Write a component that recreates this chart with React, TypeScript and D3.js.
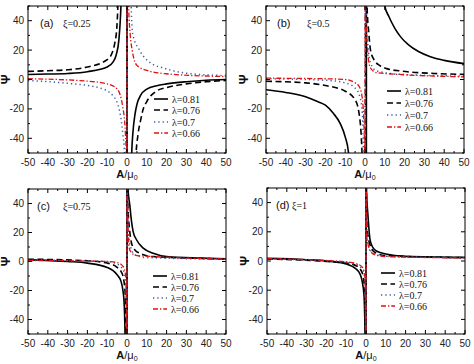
import React from "react";
import * as d3 from "d3";

type Pt = [number, number];

const lambdaLabels = ["λ=0.81", "λ=0.76", "λ=0.7", "λ=0.66"];
const xiLabels = ["ξ=0.25", "ξ=0.5", "ξ=0.75", "ξ=1"];
const panelTags = ["(a)", "(b)", "(c)", "(d)"];
const xTicks = [-50, -40, -30, -20, -10, 0, 10, 20, 30, 40, 50];
const yTicks = [-40, -20, 0, 20, 40];

// Panel (a) xi = 0.25
const a081: Pt[] = [[-50, 3.4], [-40, 3.7], [-30, 4.1], [-20, 5.3], [-10, 8.5], [-7, 12], [-5.5, 16.5], [-4.1, 27], [-3.4, 40], [-3, 52], [-2, 120], [-0.03, 4000], [0.03, -4000], [2, -80], [2.4, -50], [3, -36], [4, -24], [5, -17], [7, -10.5], [10, -6.5], [15, -4.2], [20, -3], [30, -1.5], [40, -0.5], [50, 0]];
const a076: Pt[] = [[-50, 5.5], [-40, 6], [-30, 6.6], [-20, 8.5], [-10, 13.5], [-7, 20], [-6.2, 24.5], [-5.1, 36], [-4.6, 50], [-3.5, 100], [-0.03, 4000], [0.03, -4000], [3.5, -90], [4.6, -50], [5.5, -38], [7, -27], [8, -21], [10, -15], [14.7, -8], [20, -5.5], [30, -3], [40, -1.5], [50, -0.7]];
const a070: Pt[] = [[-50, -0.7], [-30.7, -2.5], [-13.9, -5.7], [-7.1, -11], [-3.8, -21], [-2.1, -37], [-1.3, -50], [-0.8, -150], [-0.03, -4000], [0.03, 4000], [1.2, 150], [2.1, 50], [2.9, 31], [6.3, 20], [11.3, 11.9], [19.7, 7.3], [36.6, 3.4], [50, 2.7]];
const a066: Pt[] = [[-50, 0.5], [-20, -1.1], [-10, -3], [-5, -6.4], [-2.1, -19], [-0.8, -37], [-0.4, -50], [-0.2, -150], [-0.02, -4000], [0.02, 4000], [0.5, 150], [0.9, 47], [1.6, 31], [2.6, 20], [5, 9.6], [10, 6.2], [19.7, 3.9], [50, 2]];

// Panel (b) xi = 0.5
const b081: Pt[] = [[-50, -7], [-40, -8.8], [-30, -11.8], [-24, -15], [-20, -17.5], [-16, -23], [-12.5, -30], [-10, -39], [-8.3, -50], [-6, -100], [0.6, -4000], [0.8, 4000], [7, 120], [10, 50], [12, 43], [15, 35], [18, 29], [22, 23.5], [27, 19], [33, 15.5], [40, 13], [50, 10.8]];
const b076: Pt[] = [[-50, -1.2], [-30, -2.3], [-20, -4.1], [-10, -8], [-5, -13.8], [-3, -23], [-1.5, -50], [-1, -120], [0.2, -4000], [0.3, 4000], [0.7, 120], [1, 51], [1.9, 32], [2.7, 20.7], [4.4, 13.8], [7.8, 9.2], [11, 7.4], [18, 5.8], [35, 4.1], [50, 3.5]];
const b070: Pt[] = [[-50, 0.5], [-20, -0.5], [-10, -2.3], [-5, -5.8], [-3, -10], [-1.5, -20], [-0.8, -50], [-0.5, -120], [0.1, -4000], [0.2, 4000], [0.3, 120], [0.5, 50], [1.4, 25], [2.7, 11.5], [6, 5.8], [18, 3.5], [50, 2.3]];
const b066: Pt[] = [[-50, 0.9], [-20, 0.5], [-10, 0], [-5, -2.3], [-3, -4.6], [-1.5, -11.5], [-0.5, -32], [-0.2, -50], [0, -4000], [0.1, 4000], [0.2, 50], [0.7, 34], [1.4, 18], [2.7, 8], [6, 4.6], [50, 1.8]];

// Panel (c) xi = 0.75
const c081: Pt[] = [[-50, 1.1], [-30, 0], [-20, -1.1], [-10, -4.1], [-5, -9.2], [-3, -13.7], [-2, -20.6], [-1.5, -27.5], [-1, -50], [-0.6, -150], [-0.02, -4000], [0.02, 4000], [0.3, 150], [0.5, 50], [1.4, 39], [2.3, 27.5], [3.1, 20.6], [4.8, 15], [8.2, 9.2], [13.2, 5.7], [20, 3.4], [37, 2.3], [50, 1.8]];
const c076: Pt[] = [[-50, 1.6], [-20, 0.5], [-10, -1.1], [-5, -4.1], [-3, -6.9], [-2, -10.3], [-1, -20.6], [-0.5, -50], [-0.3, -150], [-0.02, -4000], [0.02, 4000], [0.2, 150], [0.4, 40], [1.4, 20.6], [2.3, 12.6], [4, 8], [6.5, 5.7], [13, 3.4], [50, 1.8]];
const c070: Pt[] = [[-50, 1.1], [-10, 0], [-5, -1.8], [-2, -5.7], [-1, -11.4], [-0.5, -20], [-0.2, -50], [-0.02, -4000], [0.02, 4000], [0.2, 50], [1, 16], [2, 9.2], [4, 4.6], [10, 2.7], [50, 1.6]];
const c066: Pt[] = [[-50, 0.7], [-10, 0], [-5, -0.7], [-2, -3.4], [-1, -6.9], [-0.5, -16], [-0.2, -50], [-0.02, -4000], [0.02, 4000], [0.2, 50], [0.5, 28], [1, 10.3], [2, 6.4], [5, 4.1], [50, 1.8]];

// Panel (d) xi = 1
const d081: Pt[] = [[-50, 1.8], [-30, 0.9], [-20, 0], [-10, -2], [-5, -5.5], [-3, -9], [-2, -13.5], [-1, -23.7], [-0.5, -50], [-0.2, -200], [-0.02, -4000], [0.02, 4000], [0.1, 200], [0.2, 50], [1, 31], [2, 15], [3, 10.5], [5, 7], [10, 4.8], [20, 3.2], [50, 2.5]];
const d076: Pt[] = [[-50, 1.4], [-10, -1.4], [-5, -3.2], [-2, -7.8], [-1, -14.6], [-0.5, -25], [-0.2, -50], [-0.02, -4000], [0.02, 4000], [0.2, 50], [0.5, 22], [1, 17], [2, 11], [3, 8], [5, 5.5], [10, 3.7], [50, 2.3]];
const d070: Pt[] = [[-50, 1.4], [-10, -0.9], [-5, -2.3], [-2, -5.5], [-1, -9], [-0.5, -16], [-0.2, -50], [-0.02, -4000], [0.02, 4000], [0.2, 50], [0.5, 16], [1, 12], [2, 8], [5, 4.5], [10, 3.2], [50, 2.3]];
const d066: Pt[] = [[-50, 1.6], [-10, -0.5], [-5, -1.8], [-2, -4], [-1, -7], [-0.5, -12], [-0.2, -50], [-0.02, -4000], [0.02, 4000], [0.2, 50], [0.5, 18], [1, 12], [2, 7], [5, 4], [10, 3], [50, 2.1]];

const panelSeries: Pt[][][] = [
  [a081, a076, a070, a066],
  [b081, b076, b070, b066],
  [c081, c076, c070, c066],
  [d081, d076, d070, d066],
];

const seriesStyles = [
  { stroke: "#000", width: 1.6, dash: "" },
  { stroke: "#000", width: 1.6, dash: "6,3.5" },
  { stroke: "#3d5fa8", width: 1.5, dash: "1.3,3" },
  { stroke: "#e01010", width: 1.3, dash: "5,2,1.3,2" },
];

const layouts = [
  { left: 28, top: 6, w: 198, h: 147, tagX: 12, xiX: 35, legX: 126, legY: [93, 104, 116, 127] },
  { left: 266, top: 6, w: 198, h: 147, tagX: 11, xiX: 41, legX: 121, legY: [85, 97, 109, 121] },
  { left: 28, top: 189, w: 198, h: 145, tagX: 9, xiX: 35, legX: 125, legY: [87, 98, 109, 120] },
  { left: 267, top: 188, w: 198, h: 146, tagX: 9, xiX: 25, legX: 114, legY: [85, 96, 107, 118] },
];

const sans = "'Liberation Sans', Arial, sans-serif";
const serif = "'Liberation Serif', 'Times New Roman', serif";

function Panel({ idx }: { idx: number }) {
  const L = layouts[idx];
  const x = d3.scaleLinear().domain([-50, 50]).range([0, L.w]);
  const y = d3.scaleLinear().domain([-50, 50]).range([L.h, 0]);
  const line = d3
    .line<Pt>()
    .x((d) => x(d[0]))
    .y((d) => y(d[1]))
    .curve(d3.curveMonotoneX);
  const clipId = `clip-${idx}`;
  const xMinor = d3.range(-45, 50, 10);
  const yMinor = d3.range(-50, 51, 20);
  return (
    <g transform={`translate(${L.left},${L.top})`}>
      <defs>
        <clipPath id={clipId}>
          <rect x={0} y={0} width={L.w} height={L.h} />
        </clipPath>
      </defs>
      <g clipPath={`url(#${clipId})`}>
        {panelSeries[idx].map((s, i) => (
          <path
            key={i}
            d={line(s) || ""}
            fill="none"
            stroke={seriesStyles[i].stroke}
            strokeWidth={seriesStyles[i].width}
            strokeDasharray={seriesStyles[i].dash || undefined}
          />
        ))}
      </g>
      <rect x={0} y={0} width={L.w} height={L.h} fill="none" stroke="#000" strokeWidth={1} />
      {xTicks.map((t) => (
        <g key={`xt${t}`}>
          <line x1={x(t)} x2={x(t)} y1={L.h} y2={L.h - 4} stroke="#000" />
          <line x1={x(t)} x2={x(t)} y1={0} y2={4} stroke="#000" />
          <text x={x(t)} y={L.h + 13} textAnchor="middle" fontFamily={sans} fontSize={10} fill="#222">
            {t}
          </text>
        </g>
      ))}
      {xMinor.map((t) => (
        <g key={`xm${t}`}>
          <line x1={x(t)} x2={x(t)} y1={L.h} y2={L.h - 2} stroke="#000" />
          <line x1={x(t)} x2={x(t)} y1={0} y2={2} stroke="#000" />
        </g>
      ))}
      {yTicks.map((t) => (
        <g key={`yt${t}`}>
          <line x1={0} x2={4} y1={y(t)} y2={y(t)} stroke="#000" />
          <line x1={L.w} x2={L.w - 4} y1={y(t)} y2={y(t)} stroke="#000" />
          <text x={-4} y={y(t)} dy="0.35em" textAnchor="end" fontFamily={sans} fontSize={10} fill="#222">
            {t}
          </text>
        </g>
      ))}
      {yMinor.map((t) => (
        <g key={`ym${t}`}>
          <line x1={0} x2={2} y1={y(t)} y2={y(t)} stroke="#000" />
          <line x1={L.w} x2={L.w - 2} y1={y(t)} y2={y(t)} stroke="#000" />
        </g>
      ))}
      <text x={L.w / 2} y={L.h + 25} textAnchor="middle" fontFamily={sans} fontSize={11} fill="#111">
        <tspan fontWeight="bold">A</tspan>
        <tspan>/μ</tspan>
        <tspan fontSize={7} dy={2}>0</tspan>
      </text>
      <text
        transform={`translate(${-18},${L.h / 2}) rotate(-90)`}
        textAnchor="middle"
        fontFamily={sans}
        fontSize={12}
        fontWeight="bold"
        fill="#111"
      >
        Ψ
      </text>
      <text x={L.tagX} y={21} fontFamily={sans} fontSize={11} fill="#111">
        {panelTags[idx]}
      </text>
      <text x={L.xiX} y={21} fontFamily={serif} fontSize={10} fill="#111">
        {xiLabels[idx]}
      </text>
      {lambdaLabels.map((lab, i) => (
        <g key={lab}>
          <line
            x1={L.legX}
            x2={L.legX + 14}
            y1={L.legY[i]}
            y2={L.legY[i]}
            stroke={seriesStyles[i].stroke}
            strokeWidth={seriesStyles[i].width}
            strokeDasharray={seriesStyles[i].dash || undefined}
          />
          <text x={L.legX + 18} y={L.legY[i]} dy="0.35em" fontFamily={serif} fontSize={10} fill="#111">
            {lab}
          </text>
        </g>
      ))}
    </g>
  );
}

export default function App() {
  return (
    <svg
      width={474}
      height={364}
      style={{ position: "absolute", left: 0, top: 0, background: "#fff" }}
    >
      <rect width={474} height={364} fill="#fff" />
      {[0, 1, 2, 3].map((i) => (
        <Panel key={i} idx={i} />
      ))}
    </svg>
  );
}
